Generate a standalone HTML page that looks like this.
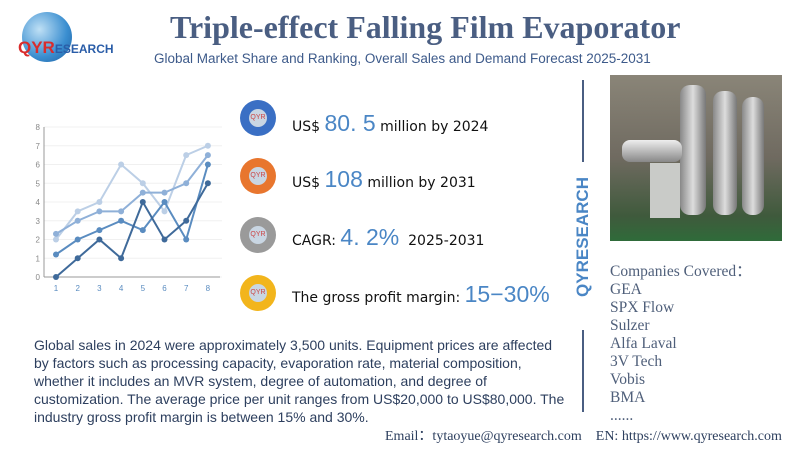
<!DOCTYPE html>
<html><head><meta charset="utf-8"><style>
body{margin:0;width:800px;height:449px;background:#fff;position:relative;overflow:hidden;font-family:"Liberation Sans",sans-serif}
.a{position:absolute}
.stat{position:absolute;left:292px;font-family:"DejaVu Sans","Liberation Sans",sans-serif;font-size:14px;color:#111;white-space:nowrap}
.big{color:#4a86c5;font-size:23px;font-family:"Liberation Sans",sans-serif}
.ic{position:absolute;left:240px;width:36px;height:36px;border-radius:50%}
.ic span{position:absolute;left:9px;top:9px;width:18px;height:18px;border-radius:50%;background:#c9d6e3;font-size:7px;color:#c44;text-align:center;line-height:18px}
.co{font-family:"Liberation Serif",serif;font-size:15.5px;color:#4f5f7a;line-height:18px}
</style></head><body>
<div class="a" style="left:18px;top:10px;width:120px;height:60px">
 <div style="position:absolute;left:4px;top:2px;width:50px;height:50px;border-radius:50%;background:radial-gradient(circle at 35% 35%,#bfe0f5,#3a8ed0 60%,#1d5c9e)"></div>
 <div style="position:absolute;left:0;top:28px;font-size:17px;font-weight:bold;color:#d92c2c">QYR<span style="color:#2a5da8;font-size:12px">ESEARCH</span></div>
</div>
<div class="a" style="left:170px;top:9px;font-family:'Liberation Serif',serif;font-weight:bold;font-size:32px;color:#4a5e82;white-space:nowrap">Triple-effect Falling Film Evaporator</div>
<div class="a" style="left:154px;top:51px;font-size:13.5px;color:#3d5a8a;white-space:nowrap">Global Market Share and Ranking, Overall Sales and Demand Forecast 2025-2031</div>

<svg class="a" style="left:0;top:0" width="240" height="300" id="chart"></svg>

<div class="ic" style="top:100px;background:#3a6fc4"><span>QYR</span></div>
<div class="stat" style="top:110px">US$ <span class="big">80. 5</span> million by 2024</div>
<div class="ic" style="top:158px;background:#e8762e"><span>QYR</span></div>
<div class="stat" style="top:166px">US$ <span class="big">108</span> million by 2031</div>
<div class="ic" style="top:217px;background:#9a9a9a"><span>QYR</span></div>
<div class="stat" style="top:224px">CAGR: <span class="big">4. 2%</span> &nbsp;2025-2031</div>
<div class="ic" style="top:275px;background:#f2b51c"><span>QYR</span></div>
<div class="stat" style="top:281px">The gross profit margin: <span class="big">15−30%</span></div>

<div class="a" style="left:582px;top:80px;width:2px;height:82px;background:#4a5e82"></div>
<div class="a" style="left:582px;top:330px;width:2px;height:82px;background:#4a5e82"></div>
<div class="a" style="left:583px;top:237px;transform:translate(-50%,-50%) rotate(-90deg);font-size:17px;font-weight:bold;color:#4a86c5;white-space:nowrap">QYRESEARCH</div>

<div class="a" style="left:610px;top:75px;width:172px;height:166px;background:linear-gradient(180deg,#8a8578 0%,#6f6a60 50%,#3f5a3c 85%,#2f6b3a 100%);overflow:hidden">
 <div style="position:absolute;left:70px;top:10px;width:26px;height:130px;border-radius:10px;background:linear-gradient(90deg,#888,#ddd,#777)"></div>
 <div style="position:absolute;left:103px;top:16px;width:24px;height:124px;border-radius:10px;background:linear-gradient(90deg,#888,#ddd,#777)"></div>
 <div style="position:absolute;left:132px;top:22px;width:22px;height:118px;border-radius:10px;background:linear-gradient(90deg,#888,#ddd,#777)"></div>
 <div style="position:absolute;left:12px;top:65px;width:60px;height:22px;border-radius:8px;background:linear-gradient(180deg,#eee,#888)"></div>
 <div style="position:absolute;left:40px;top:88px;width:30px;height:55px;background:#c9cbc8"></div>
</div>

<div class="a co" style="left:610px;top:263px">Companies Covered：<br>GEA<br>SPX Flow<br>Sulzer<br>Alfa Laval<br>3V Tech<br>Vobis<br>BMA<br>......</div>

<div class="a" style="left:34px;top:336px;width:532px;font-size:14px;line-height:18px;color:#2d3f5e">Global sales in 2024 were approximately 3,500 units. Equipment prices are affected by factors such as processing capacity, evaporation rate, material composition, whether it includes an MVR system, degree of automation, and degree of customization. The average price per unit ranges from US$20,000 to US$80,000. The industry gross profit margin is between 15% and 30%.</div>
<div class="a" style="left:385px;top:425px;font-family:'Liberation Serif',serif;font-size:14px;color:#2d3f5e;white-space:nowrap">Email：tytaoyue@qyresearch.com &nbsp;&nbsp;&nbsp;EN: https://www.qyresearch.com</div>

<script>
const categories=[1,2,3,4,5,6,7,8];
const yTicks=[0,1,2,3,4,5,6,7,8];
const series1=[0,1,2,1,4,2,3,5];
const series2=[1.2,2,2.5,3,2.5,4,2,6];
const series3=[2.3,3,3.5,3.5,4.5,4.5,5,6.5];
const series4=[2,3.5,4,6,5,3.5,6.5,7];
const colors=['#3f6a9a','#5a8cc0','#8fb0d8','#bccfe6'];
const svg=document.getElementById('chart');
const NS='http://www.w3.org/2000/svg';
const x=v=>56+(v-1)*21.7, y=v=>277-v*18.75;
function mk(t,a){const e=document.createElementNS(NS,t);for(const k in a)e.setAttribute(k,a[k]);svg.appendChild(e);return e;}
yTicks.forEach(t=>{
 const g=mk('line',{x1:44,x2:222,y1:y(t),y2:y(t),stroke:'#f0f0f0'});
 
 
 const l=mk('text',{x:40,y:y(t)+3,'font-size':8,fill:'#888','text-anchor':'end','font-family':'Liberation Sans'});
 l.textContent=t;
 
 
});
const ax=mk('line',{x1:44,x2:220,y1:277,y2:277,stroke:'#999'});


const ay=mk('line',{x1:44,x2:44,y1:127,y2:277,stroke:'#999'});


categories.forEach(c=>{
 const l=mk('text',{x:x(c),y:291,'font-size':8,fill:'#5a8cc0','text-anchor':'middle','font-family':'Liberation Sans'});
 l.textContent=c;
 
 
});
[series4,series3,series2,series1].forEach((s,i)=>{
 const col=colors[3-i];
 const p=mk('polyline',{points:s.map((v,j)=>x(categories[j])+','+y(v)).join(' '),fill:'none',stroke:col,'stroke-width':2});
 
 
 s.forEach((v,j)=>{
  const c=mk('circle',{cx:x(categories[j]),cy:y(v),r:3,fill:col});
  
  
 });
});
</script>
</body></html>
